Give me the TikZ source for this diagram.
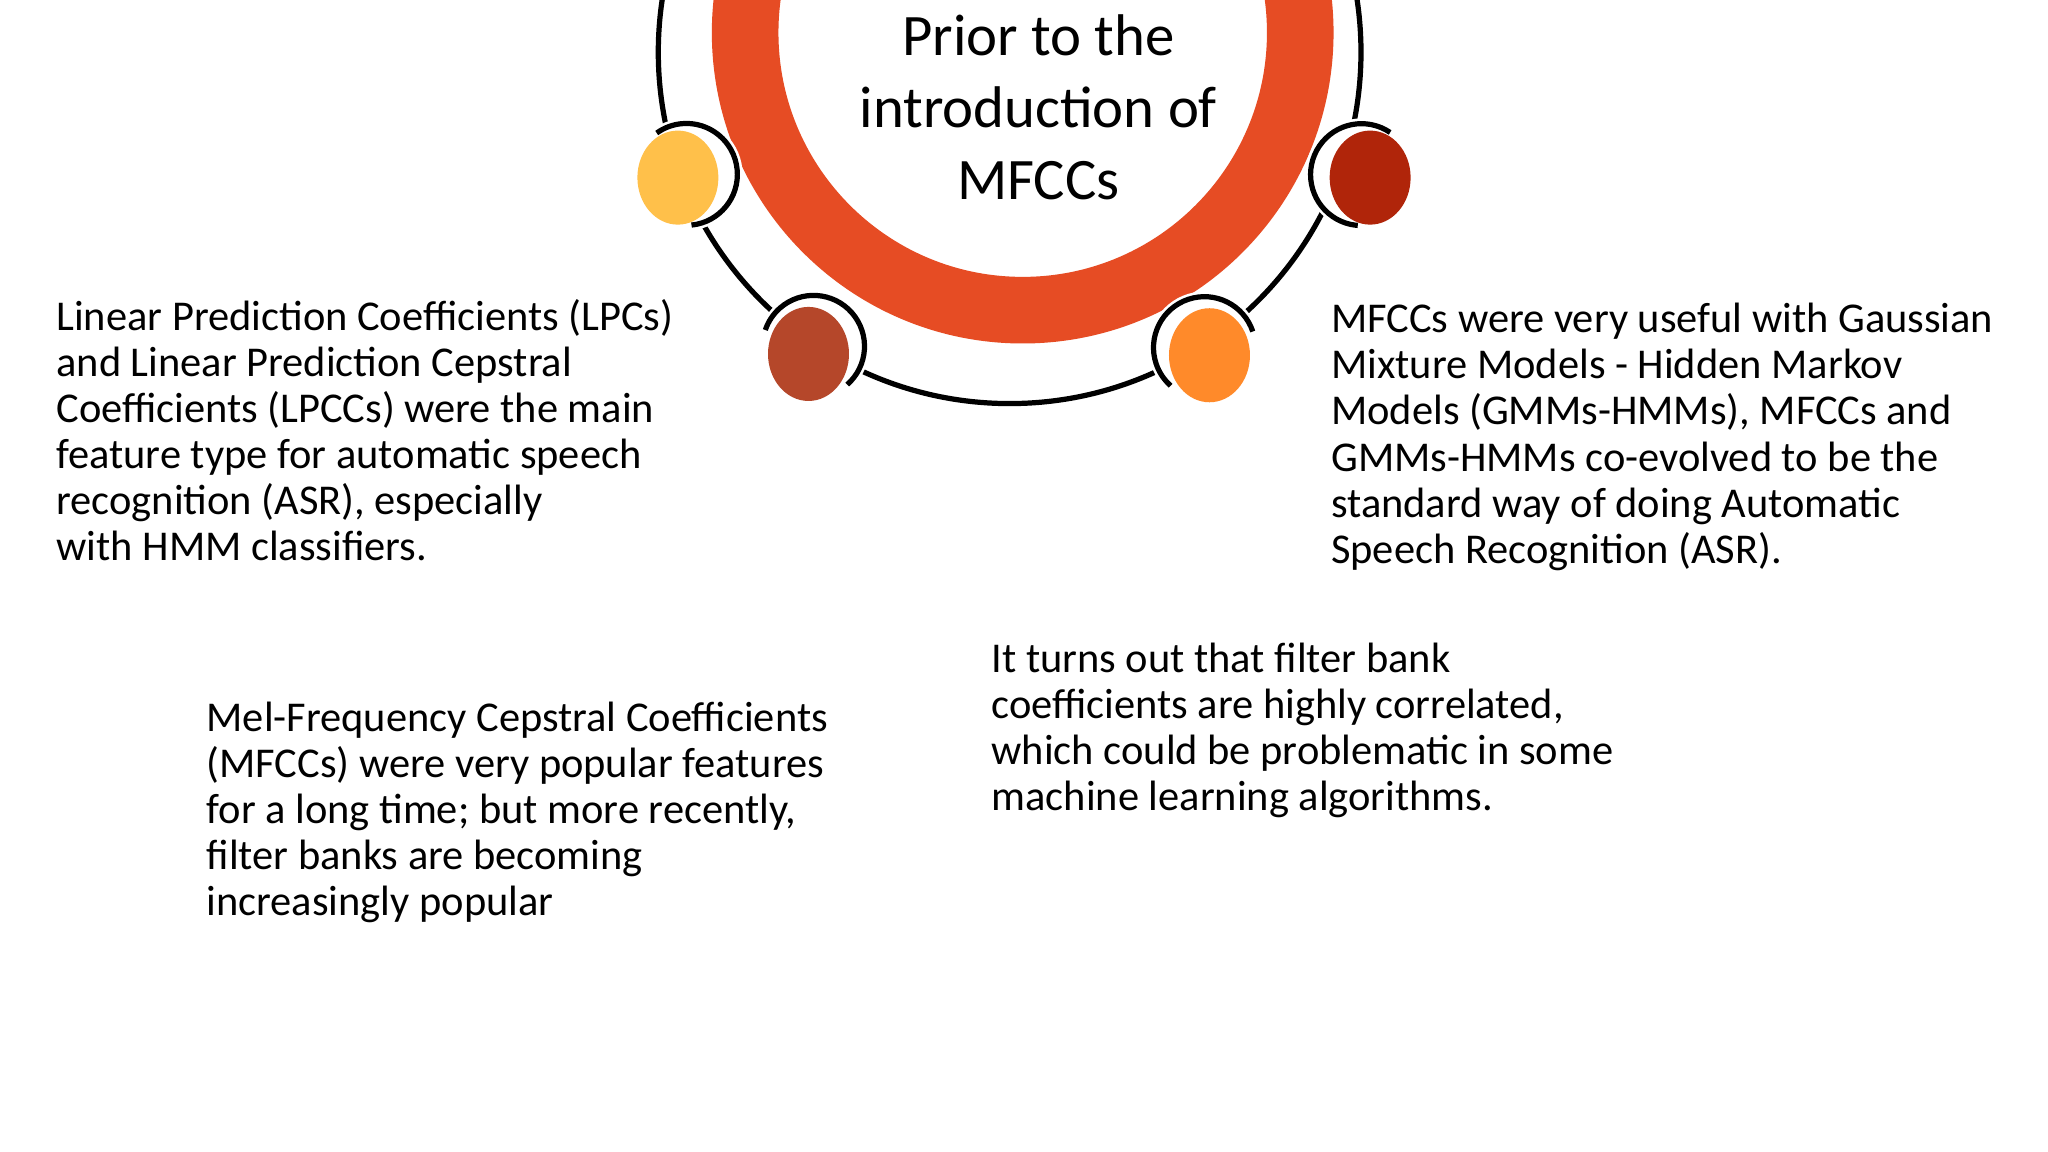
\documentclass[tikz,border=0pt]{standalone}
\usepackage{fontspec}
\setmainfont{Carlito}
\usetikzlibrary{calc}
\begin{document}
\begin{tikzpicture}[x=1pt,y=1pt,
  txt/.style={anchor=north west,inner sep=0pt,align=left,font=\fontsize{32.5}{35.3}\selectfont},
  blk/.style={line width=4pt,black},
  wht/.style={fill=white,draw=none}]
\useasboundingbox (0,0) rectangle (1568,882);
\clip (0,0) rectangle (1568,882);
\fill[white] (0,0) rectangle (1568,882);
% rings
\coordinate (c) at (773,842);
\draw[blk] (c) circle[radius=269];
\draw[line width=51pt,color={rgb,255:red,230;green,76;blue,36}] (783,857) circle[radius=212.5];
% small circles
\foreach \n/\x/\y/\a/\col in {y/519/746/20.7/{255,192,74},r/1049/746/160.8/{176,37,10},b/619/611/56.3/{181,71,42},o/926/610/123.4/{255,138,42}}{
  \coordinate (p\n) at ($(\x,\y)+(\a:7)$);
  \fill[white] (p\n) circle[radius=43];
  \draw[blk] (p\n) ++(\a-105:39) arc[start angle=\a-105,end angle=\a+105,radius=39];
  \definecolor{cc}{RGB}{\col}
  \fill[cc] (\x,\y) ellipse[x radius=31,y radius=36];
}
\node[anchor=north,inner sep=0pt,align=center,font=\fontsize{45}{55}\selectfont] (title) at (795,871) {Prior to the\\introduction of\\MFCCs};
\node[txt] (t1) at (43,653) {Linear Prediction Coefficients (LPCs)\\and Linear Prediction Cepstral\\Coefficients (LPCCs) were the main\\feature type for automatic speech\\recognition (ASR), especially\\with HMM classifiers.};
\node[txt] (t2) at (1019,650) {MFCCs were very useful with Gaussian\\Mixture Models - Hidden Markov\\Models (GMMs-HMMs), MFCCs and\\GMMs-HMMs co-evolved to be the\\standard way of doing Automatic\\Speech Recognition (ASR).};
\node[txt] (t3) at (759,390) {It turns out that filter bank\\coefficients are highly correlated,\\which could be problematic in some\\machine learning algorithms.};
\node[txt] (t4) at (158,345) {Mel-Frequency Cepstral Coefficients\\(MFCCs) were very popular features\\for a long time; but more recently,\\filter banks are becoming\\increasingly popular};
\end{tikzpicture}
\end{document}
